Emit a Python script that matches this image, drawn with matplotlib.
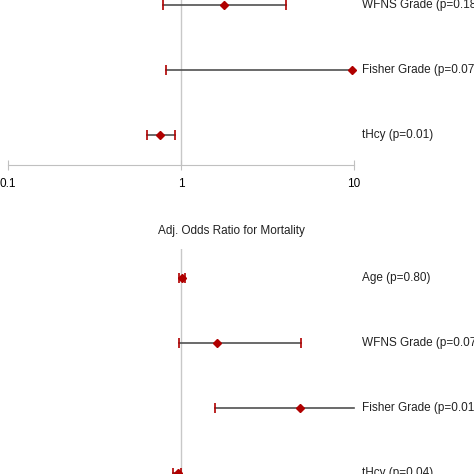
import matplotlib
matplotlib.use("Agg")
import matplotlib.pyplot as plt

plt.rcParams['font.family'] = ['Liberation Sans', 'DejaVu Sans']

top_labels = ["WFNS Grade (p=0.18)", "Fisher Grade (p=0.07)", "tHcy (p=0.01)"]
top_or = [1.77, 9.7, 0.76]
top_lo = [0.79, 0.82, 0.64]
top_hi = [4.05, 10.0, 0.92]
top_hi_cap = [True, False, True]

bot_labels = ["Age (p=0.80)", "WFNS Grade (p=0.07)", "Fisher Grade (p=0.01)", "tHcy (p=0.04)"]
bot_or = [1.01, 1.61, 4.87, 0.96]
bot_lo = [0.97, 0.97, 1.57, 0.90]
bot_hi = [1.05, 4.93, 10.0, 1.00]
bot_hi_cap = [True, True, False, True]

W = 474
fig = plt.figure(figsize=(4.74, 4.74), dpi=100)
x0, x1 = 8 / W, 354 / W

def draw(ax, labels, orv, lo, hi, caps, ys):
    ax.set_xscale('log')
    ax.set_xlim(0.1, 10)
    ax.axvline(1, color='#c8c8c8', lw=1, zorder=0)
    red = '#b00000'
    for lab, o, l, h, c, y in zip(labels, orv, lo, hi, caps, ys):
        ax.plot([l, h], [y, y], color='#505050', lw=1.2, zorder=2, clip_on=False)
        ax.plot([l], [y], marker='|', ms=7, mew=1.2, color=red, zorder=3, clip_on=False)
        if c:
            ax.plot([h], [y], marker='|', ms=7, mew=1.2, color=red, zorder=3, clip_on=False)
        ax.plot([o], [y], marker='D', ms=4.5, color=red, zorder=4, clip_on=False)
        ax.text(1.0 + 8 / 346, y, lab, transform=ax.get_yaxis_transform(),
                ha='left', va='center', fontsize=8.5, color='#222222')
    for s in ax.spines.values():
        s.set_visible(False)
    ax.set_yticks([])

# top panel: rows at px 5, 70, 135; axis line at px 165
ax1 = fig.add_axes([x0, 1 - 165 / W, x1 - x0, 200 / W])
ax1.set_ylim(1 - 30 / 65, 1 + 170 / 65)
draw(ax1, top_labels, top_or, top_lo, top_hi, top_hi_cap, [3, 2, 1])
ax1.spines['bottom'].set_visible(True)
ax1.spines['bottom'].set_color('#c0c0c0')
ax1.set_xticks([0.1, 1, 10])
ax1.set_xticklabels(["0.1", "1", "10"])
ax1.xaxis.set_minor_locator(matplotlib.ticker.NullLocator())
ax1.tick_params(axis='x', direction='inout', length=7, color='#c0c0c0', labelsize=8.5, pad=6)
ax1.set_xlabel("Adj. Odds Ratio for Mortality", fontsize=8.5, color='#222222')
ax1.xaxis.set_label_coords((231 - 8) / 346, -60 / 200)

# bottom panel: rows at px 281, 346, 410, 473
ax2 = fig.add_axes([x0, 0, x1 - x0, 225 / W])
ax2.set_ylim(1 - 1 / 65, 1 + 224 / 65)
draw(ax2, bot_labels, bot_or, bot_lo, bot_hi, bot_hi_cap, [4, 3, 2, 1])
ax2.set_xticks([])
ax2.xaxis.set_minor_locator(matplotlib.ticker.NullLocator())

fig.savefig("out.png", dpi=100)
